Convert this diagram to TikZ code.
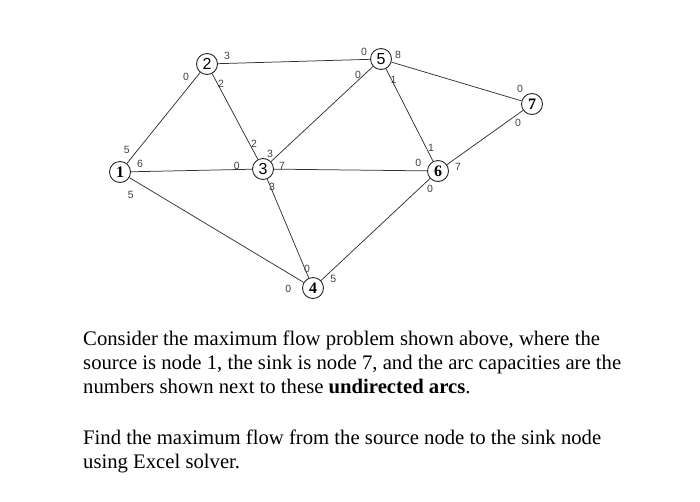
\documentclass[tikz,border=0pt]{standalone}
\usepackage{fontspec}
\setmainfont{Liberation Serif}
\newfontfamily\lsans{Liberation Sans}
\begin{document}
\begin{tikzpicture}[x=1pt,y=-1pt,
  vtx/.style={circle,draw=black!85,line width=0.9pt,minimum size=21pt,inner sep=0pt,font=\fontsize{16}{16}\selectfont\bfseries},
  vtxs/.style={vtx,font=\lsans\fontsize{16}{16}\selectfont},
  edge/.style={draw=black!80,line width=0.75pt},
  lbl/.style={inner sep=0pt,text=black!75,font=\lsans\fontsize{10.5}{10.5}\selectfont},
  para/.style={anchor=base west,inner sep=0pt,font=\fontsize{20.7}{24}\selectfont}]
\useasboundingbox (0,0) rectangle (700,501);
\node[vtx]  (n1) at (120,172) {1};
\node[vtxs] (n2) at (207,64) {2};
\node[vtxs] (n3) at (263,169) {3};
\node[vtx]  (n4) at (313,288) {4};
\node[vtxs] (n5) at (381,59) {5};
\node[vtx]  (n6) at (438,171) {6};
\node[vtx]  (n7) at (532,104) {7};
\draw[edge] (n1) -- (n2);
\draw[edge] (n1) -- (n3);
\draw[edge] (n1) -- (n4);
\draw[edge] (n2) -- (n5);
\draw[edge] (n2) -- (n3);
\draw[edge] (n3) -- (n5);
\draw[edge] (n3) -- (n6);
\draw[edge] (n3) -- (n4);
\draw[edge] (n5) -- (n6);
\draw[edge] (n5) -- (n7);
\draw[edge] (n6) -- (n7);
\draw[edge] (n6) -- (n4);
% labels
\node[lbl] (l12) at (126.7,150) {5};
\node[lbl] (l13) at (140,164) {6};
\node[lbl] (l14) at (130.7,195) {5};
\node[lbl] (l21) at (186,77) {0};
\node[lbl] (l25) at (227,56) {3};
\node[lbl] (l23) at (221,84) {2};
\node[lbl] (l52) at (364,51.5) {0};
\node[lbl] (l57) at (398,55) {8};
\node[lbl] (l53) at (358,75) {0};
\node[lbl] (l56) at (393.5,79.5) {1};
\node[lbl] (l75) at (520,89) {0};
\node[lbl] (l76) at (518,123) {0};
\node[lbl] (l32) at (254,144) {2};
\node[lbl] (l35) at (270,154) {3};
\node[lbl] (l31) at (236.7,165.7) {0};
\node[lbl] (l36) at (282,166) {7};
\node[lbl] (l34) at (272,187) {3};
\node[lbl] (l65) at (431,148.3) {1};
\node[lbl] (l63) at (418.3,163.3) {0};
\node[lbl] (l67) at (458,167.3) {7};
\node[lbl] (l64) at (430,189.3) {0};
\node[lbl] (l43) at (307,269.3) {0};
\node[lbl] (l46) at (333.3,279.3) {5};
\node[lbl] (l41) at (288.3,289.3) {0};
% text
\node[para] (t1) at (83,345) {Consider the maximum flow problem shown above, where the};
\node[para] (t2) at (83,369) {source is node 1, the sink is node 7, and the arc capacities are the};
\node[para] (t3) at (83,393) {numbers shown next to these \textbf{undirected arcs}.};
\node[para] (t4) at (83,444) {Find the maximum flow from the source node to the sink node};
\node[para] (t5) at (83,468) {using Excel solver.};
\end{tikzpicture}
\end{document}
